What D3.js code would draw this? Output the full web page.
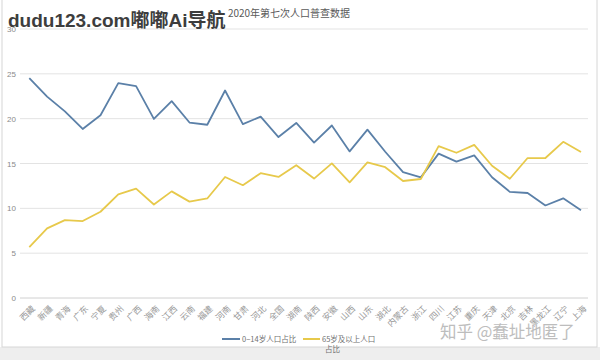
<!DOCTYPE html>
<html><head><meta charset="utf-8">
<script src="https://cdn.jsdelivr.net/npm/d3@7/dist/d3.min.js"></script>
<style>html,body{margin:0;padding:0;background:#fff}svg{display:block}</style>
</head><body>
<svg id="c" width="600" height="360"></svg>
<script>
const categories = ["西藏","新疆","青海","广东","宁夏","贵州","广西","海南","江西","云南","福建","河南","甘肃","河北","全国","湖南","陕西","安徽","山西","山东","湖北","内蒙古","浙江","四川","江苏","重庆","天津","北京","吉林","黑龙江","辽宁","上海"];
const youth = [24.53,22.46,20.81,18.85,20.38,23.97,23.63,19.97,21.96,19.57,19.32,23.14,19.40,20.22,17.95,19.52,17.33,19.24,16.35,18.78,16.31,14.04,13.45,16.10,15.21,15.91,13.47,11.84,11.71,10.32,11.12,9.80];
const elderly = [5.67,7.76,8.68,8.58,9.62,11.56,12.20,10.43,11.89,10.75,11.10,13.49,12.58,13.92,13.50,14.81,13.32,15.01,12.90,15.13,14.59,13.05,13.27,16.93,16.20,17.08,14.75,13.30,15.61,15.61,17.42,16.28];
const yTicks = [0,5,10,15,20,25,30];
const seriesNames = ["0−14岁人口占比","65岁及以上人口占比"];
const title = "2020年第七次人口普查数据";

const svg = d3.select("#c");
const cjk = "'Noto Sans CJK SC','Noto Sans',sans-serif";

// frame
svg.append("rect").attr("x",0).attr("y",347).attr("width",600).attr("height",13).attr("fill","#eeeeee");
svg.append("rect").attr("x",2).attr("y",-2).attr("width",595).attr("height",349).attr("fill","#fff").attr("stroke","#d6d6d6");

const x = d3.scalePoint().domain(categories).range([29.3,581]);
const y = d3.scaleLinear().domain([0,30]).range([298,29]);

// grid
svg.append("g").selectAll("line").data(yTicks).join("line")
  .attr("x1",20).attr("x2",588).attr("y1",d=>y(d)).attr("y2",d=>y(d))
  .attr("stroke",d=>d===0?"#d0d0d0":"#e3e3e3").attr("stroke-width",1);

// y axis labels
const yAxis = d3.axisLeft(y).tickValues(yTicks).tickSize(0).tickPadding(0);
const gy = svg.append("g").attr("transform","translate(16,0)").call(yAxis);
gy.select(".domain").remove();
gy.selectAll("text").attr("font-family","'Liberation Sans',Arial,sans-serif").attr("font-size",8).attr("fill","#8a8a8a");

// x axis labels
const xAxis = d3.axisBottom(x).tickSize(0).tickPadding(0);
const gx = svg.append("g").call(xAxis);
gx.select(".domain").remove();
gx.selectAll(".tick").attr("transform",d=>`translate(${x(d)+4},307)`);
gx.selectAll("text").attr("font-family",cjk).attr("font-size",8.5).attr("fill","#999")
  .attr("text-anchor","end").attr("dy","0.35em").attr("y",0).attr("transform","rotate(-45)");

// lines
const line = d3.line().x((d,i)=>x(categories[i])).y(d=>y(d));
const colors = ["#5b80a8","#e7c94b"];
[youth, elderly].forEach((s,k)=>{
  svg.append("path").datum(s).attr("d",line).attr("fill","none")
    .attr("stroke",colors[k]).attr("stroke-width",1.8).attr("stroke-linejoin","round");
});

// title
svg.append("text").attr("x",289).attr("y",17).attr("text-anchor","middle")
  .attr("font-family",cjk).attr("font-size",10).attr("fill","#595959").text(title);

// legend
const lg = svg.append("g").attr("font-family",cjk).attr("font-size",7.5).attr("fill","#707070");
lg.append("line").attr("x1",222).attr("x2",240).attr("y1",339).attr("y2",339).attr("stroke",colors[0]).attr("stroke-width",2);
lg.append("text").attr("x",242).attr("y",341.5).text(seriesNames[0]);
lg.append("line").attr("x1",303).attr("x2",320).attr("y1",339).attr("y2",339).attr("stroke",colors[1]).attr("stroke-width",2);
lg.append("text").attr("x",322).attr("y",341.5).text(seriesNames[1].slice(0,8));
lg.append("text").attr("x",325).attr("y",352).text(seriesNames[1].slice(8));

// watermarks
svg.append("text").attr("x",8).attr("y",27).attr("font-family","'Liberation Sans','Noto Sans CJK SC',sans-serif")
  .attr("font-size",19).attr("font-weight","bold").attr("fill","#3d3d3d")
  .attr("stroke","#fff").attr("stroke-width",0.5).attr("paint-order","stroke").text("dudu123.com嘟嘟Ai导航");
svg.append("text").attr("x",440).attr("y",338).attr("font-family",cjk)
  .attr("font-size",16.5).attr("fill","#bdbdbd").text("知乎 @蠢址地匿了");
</script>
</body></html>
